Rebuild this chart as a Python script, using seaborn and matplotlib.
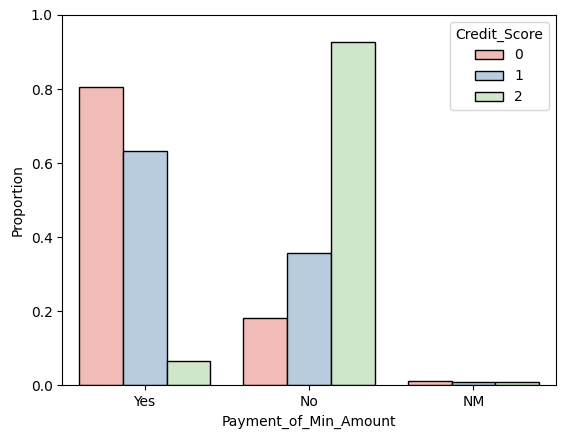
import matplotlib
matplotlib.use("Agg")
import matplotlib.pyplot as plt
import seaborn as sns
import pandas as pd

categories = ["Yes", "No", "NM"]
scores = ["0", "1", "2"]
score0 = [0.805, 0.183, 0.012]
score1 = [0.632, 0.358, 0.010]
score2 = [0.065, 0.928, 0.008]

rows = []
for s, vals in zip(scores, [score0, score1, score2]):
    for c, v in zip(categories, vals):
        rows.append({"Payment_of_Min_Amount": c, "Credit_Score": s, "Proportion": v})
df = pd.DataFrame(rows)

fig, ax = plt.subplots(figsize=(5.67, 4.38), dpi=100)
sns.barplot(data=df, x="Payment_of_Min_Amount", y="Proportion", hue="Credit_Score",
            order=categories, hue_order=scores, palette="Pastel1",
            edgecolor="black", ax=ax)
ax.set_ylim(0, 1)
ax.legend(title="Credit_Score", loc="upper right")
fig.subplots_adjust(left=0.11, right=0.98, top=0.966, bottom=0.12)
fig.savefig("out.png", dpi=100)
